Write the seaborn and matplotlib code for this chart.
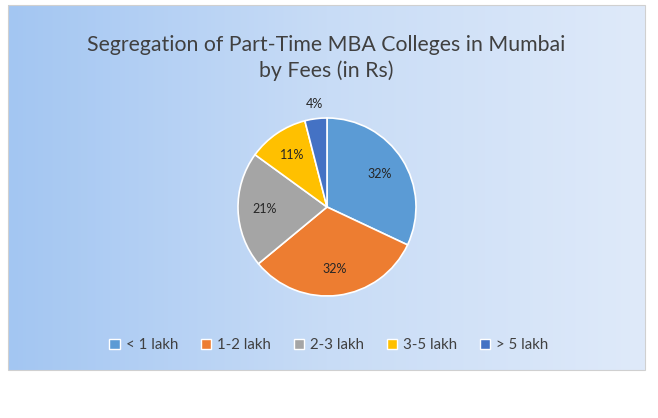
import matplotlib
matplotlib.use("Agg")
import matplotlib.pyplot as plt
import seaborn as sns
import numpy as np
from matplotlib.patches import Rectangle
from matplotlib.colors import LinearSegmentedColormap

sns.set_style("white")
plt.rcParams['font.family'] = ['Lato', 'DejaVu Sans']

categories = ["< 1 lakh", "1-2 lakh", "2-3 lakh", "3-5 lakh", "> 5 lakh"]
values = [32, 32, 21, 11, 4]
colors = ["#5B9BD5", "#ED7D31", "#A5A5A5", "#FFC000", "#4472C4"]

W, H = 658, 418
fig = plt.figure(figsize=(W/100, H/100), dpi=100)
fig.patch.set_facecolor("white")

bx0, by0, bx1, by1 = 8, 5, 645, 370
bg = fig.add_axes([bx0/W, 1-by1/H, (bx1-bx0)/W, (by1-by0)/H])
grad = np.linspace(0, 1, 256)[None, :]
cmap = LinearSegmentedColormap.from_list("g", ["#a3c6f2", "#c8dcf6", "#dfeafa"])
bg.imshow(grad, aspect="auto", cmap=cmap, extent=[0, 1, 0, 1])
bg.set_axis_off()
fig.add_artist(Rectangle((bx0/W, 1-by1/H), (bx1-bx0)/W, (by1-by0)/H,
                         transform=fig.transFigure, fill=False, ec="#d0d0d0", lw=0.8))

cx, cy, r = 327, 207, 89
ax = fig.add_axes([(cx-r)/W, (H-cy-r)/H, 2*r/W, 2*r/H])
wedges, texts = ax.pie(values, colors=colors, startangle=90, counterclock=False,
                       wedgeprops=dict(edgecolor="white", linewidth=1.2), radius=1)
for w, v in zip(wedges, values):
    ang = np.deg2rad((w.theta1 + w.theta2) / 2)
    d = 1.17 if v < 6 else 0.7
    ax.text(d*np.cos(ang), d*np.sin(ang), f"{v}%", ha="center", va="center",
            fontsize=9, color="#262626")
ax.set_xlim(-1, 1); ax.set_ylim(-1, 1)
ax.set_aspect("equal")

fig.text(326/W, 1-45/H, "Segregation of Part-Time MBA Colleges in Mumbai",
         ha="center", va="center", fontsize=15.3, color="#404040")
fig.text(326/W, 1-71/H, "by Fees (in Rs)", ha="center", va="center",
         fontsize=15.3, color="#404040")

handles = [Rectangle((0, 0), 1, 1, fc=c, ec="white") for c in colors]
fig.legend(handles, categories, loc="center", bbox_to_anchor=(329/W, 1-345/H),
           ncol=5, frameon=False, fontsize=10.8, handlelength=0.7, handleheight=0.7,
           handletextpad=0.4, columnspacing=1.5, labelcolor="#404040")

fig.savefig("out.png", dpi=100)
